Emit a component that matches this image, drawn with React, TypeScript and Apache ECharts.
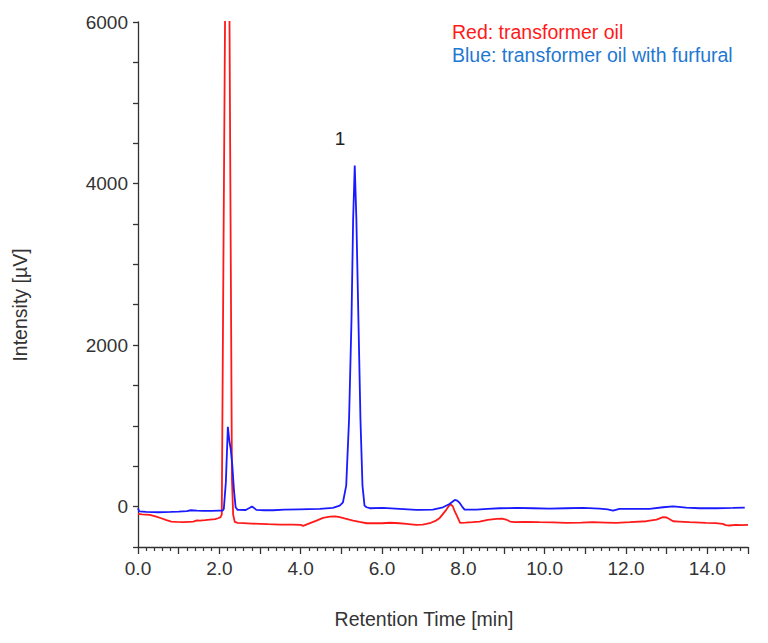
import React, { useEffect, useRef } from "react";
import * as echarts from "echarts";

// Retention time [min], intensity [µV]
const redTrace: [number, number][] = [
  [0.0, -90], [0.1, -95], [0.29, -102], [0.45, -125], [0.57, -144], [0.7, -168], [0.82, -185],
  [0.95, -190], [1.11, -193], [1.25, -188], [1.36, -185], [1.45, -170], [1.52, -173], [1.65, -168],
  [1.77, -160], [1.9, -155], [1.97, -144], [2.03, -131], [2.06, -100], [2.1, 3000], [2.14, 6000],
  [2.2, 10600], [2.25, 6000], [2.31, 340], [2.34, -100], [2.38, -190], [2.45, -201], [2.6, -205],
  [2.8, -210], [3.0, -214], [3.2, -218], [3.5, -222], [3.8, -222], [4.0, -226], [4.06, -238],
  [4.2, -210], [4.39, -173], [4.55, -140], [4.72, -123], [4.85, -120], [4.96, -131], [5.1, -150],
  [5.29, -173], [5.45, -190], [5.62, -206], [5.8, -206], [6.0, -206], [6.2, -200], [6.43, -206],
  [6.6, -214], [6.84, -226], [7.0, -222], [7.09, -214], [7.2, -200], [7.33, -173], [7.42, -140],
  [7.5, -90], [7.58, -40], [7.66, 21], [7.7, 25], [7.74, 4], [7.79, -60], [7.84, -111], [7.92, -201],
  [8.05, -198], [8.23, -193], [8.4, -185], [8.6, -165], [8.81, -152], [8.95, -150], [9.05, -160],
  [9.15, -185], [9.26, -193], [9.5, -190], [9.87, -193], [10.2, -195], [10.53, -201], [10.9, -197],
  [11.18, -193], [11.5, -197], [11.76, -201], [12.1, -193], [12.5, -181], [12.75, -160], [12.91, -131],
  [13.0, -135], [13.16, -181], [13.3, -185], [13.56, -193], [13.97, -201], [14.2, -205], [14.38, -214],
  [14.45, -230], [14.55, -234], [14.7, -226], [14.85, -230], [15.0, -226],
];

const blueTrace: [number, number][] = [
  [0.0, -20], [0.03, -60], [0.2, -65], [0.5, -70], [0.8, -66], [1.0, -62], [1.2, -55], [1.3, -45],
  [1.45, -50], [1.6, -53], [1.8, -52], [2.0, -49], [2.08, -50], [2.11, -30], [2.16, 300], [2.21, 988],
  [2.25, 800], [2.28, 713], [2.32, 506], [2.36, 200], [2.4, -7], [2.45, -40], [2.5, -40], [2.65, -42],
  [2.75, -15], [2.8, 0], [2.85, -15], [2.91, -40], [3.1, -45], [3.32, -45], [3.6, -38], [3.97, -33],
  [4.2, -30], [4.47, -28], [4.79, -16], [4.96, 12], [5.04, 54], [5.12, 260], [5.19, 1083], [5.25, 2318],
  [5.29, 3553], [5.33, 4224], [5.37, 3553], [5.42, 2318], [5.47, 1083], [5.52, 260], [5.57, 12],
  [5.62, -8], [5.7, -20], [6.02, -16], [6.43, -28], [6.84, -40], [6.92, -41], [7.25, -37], [7.5, -8],
  [7.66, 33], [7.79, 83], [7.85, 75], [7.91, 45], [7.97, 0], [8.03, -37], [8.32, -37], [8.6, -28],
  [8.89, -20], [9.3, -16], [9.71, -20], [10.12, -25], [10.53, -20], [10.94, -16], [11.35, -25],
  [11.55, -35], [11.68, -49], [11.84, -28], [12.2, -28], [12.58, -28], [12.91, -8], [13.16, 4],
  [13.48, -12], [13.81, -20], [14.22, -20], [14.63, -16], [14.92, -12],
];

const xLabelValues = [0, 2, 4, 6, 8, 10, 12, 14];
const yLabelValues = [0, 2000, 4000, 6000];
const legendTexts = ["Red: transformer oil", "Blue: transformer oil with furfural"];
const peakLabel = "1";
const xName = "Retention Time [min]";
const yName = "Intensity [µV]";

const FONT = "'Liberation Sans', Arial, sans-serif";
const TEXT = "#333333";

export default function App() {
  const ref = useRef<HTMLDivElement>(null);
  useEffect(() => {
    if (!ref.current) return;
    const chart = echarts.init(ref.current, undefined, { renderer: "svg" });
    chart.setOption({
      animation: false,
      backgroundColor: "#ffffff",
      grid: { left: 130, right: 12, top: 14, bottom: 88, containLabel: false },
      xAxis: {
        type: "value",
        min: 0,
        max: 15,
        interval: 1,
        axisLine: { show: true, onZero: false, lineStyle: { color: TEXT, width: 1.3 } },
        axisTick: { show: true, length: 7, lineStyle: { color: TEXT, width: 1.3 } },
        minorTick: { show: true, splitNumber: 5, length: 4, lineStyle: { color: TEXT, width: 1.2 } },
        splitLine: { show: false },
        axisLabel: {
          margin: 12,
          color: TEXT,
          fontSize: 19,
          fontFamily: FONT,
          formatter: (v: number) => (xLabelValues.includes(v) ? v.toFixed(1) : ""),
        },
      },
      yAxis: {
        type: "value",
        min: -500,
        max: 6000,
        interval: 500,
        axisLine: { show: true, lineStyle: { color: TEXT, width: 1.3 } },
        axisTick: { show: true, length: 5, lineStyle: { color: TEXT, width: 1.3 } },
        splitLine: { show: false },
        axisLabel: {
          margin: 10,
          color: TEXT,
          fontSize: 19,
          fontFamily: FONT,
          formatter: (v: number) => (yLabelValues.includes(v) ? String(v) : ""),
        },
      },
      series: [
        {
          type: "line",
          data: redTrace,
          showSymbol: false,
          clip: true,
          lineStyle: { color: "#ff1a1a", width: 1.8 },
          z: 2,
        },
        {
          type: "line",
          data: blueTrace,
          showSymbol: false,
          clip: true,
          lineStyle: { color: "#1a1aff", width: 1.8 },
          z: 3,
        },
      ],
      graphic: [
        {
          type: "text",
          left: 444,
          top: 14,
          style: { text: legendTexts[0], fill: "#ff1a1a", fontSize: 19.5, fontFamily: FONT },
        },
        {
          type: "text",
          left: 444,
          top: 37,
          style: { text: legendTexts[1], fill: "#1f78d1", fontSize: 19.5, fontFamily: FONT },
        },
        {
          type: "text",
          x: 332,
          y: 130,
          style: {
            text: peakLabel,
            fill: "#222222",
            fontSize: 19,
            fontFamily: FONT,
            align: "center",
            verticalAlign: "middle",
          },
        },
        {
          type: "text",
          x: 416,
          y: 611,
          style: {
            text: xName,
            fill: TEXT,
            fontSize: 19.5,
            fontFamily: FONT,
            align: "center",
            verticalAlign: "middle",
          },
        },
        {
          type: "text",
          x: 12,
          y: 297,
          rotation: Math.PI / 2,
          style: {
            text: yName,
            fill: TEXT,
            fontSize: 19.5,
            fontFamily: FONT,
            align: "center",
            verticalAlign: "middle",
          },
        },
      ],
    });
    return () => chart.dispose();
  }, []);
  return <div ref={ref} style={{ width: 752, height: 627 }} />;
}
